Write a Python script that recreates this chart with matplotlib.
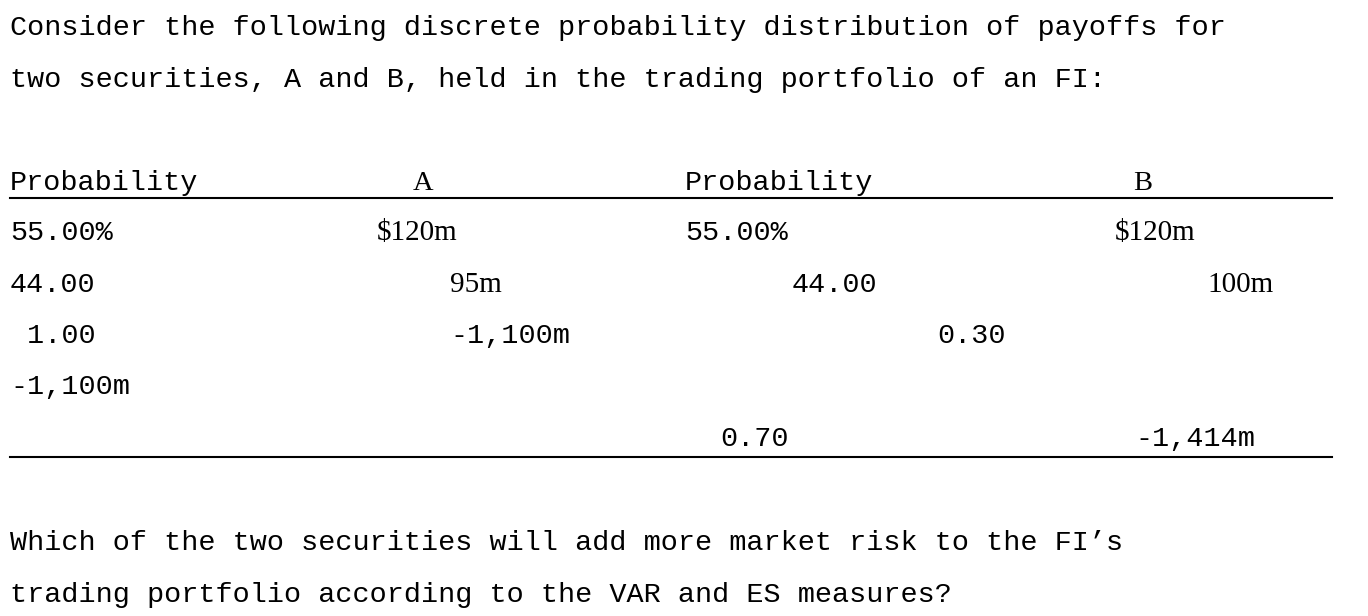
import matplotlib
matplotlib.use("Agg")
import matplotlib.pyplot as plt

intro = ["Consider the following discrete probability distribution of payoffs for",
         "two securities, A and B, held in the trading portfolio of an FI:"]
question = ["Which of the two securities will add more market risk to the FI\u2019s",
            "trading portfolio according to the VAR and ES measures?"]
headers = ["Probability", "A", "Probability", "B"]
# (text, x_left_px, y_baseline_px, font)
cells = [
    ("55.00%", 10, 240, "mono"), ("$120m", 377, 240, "serif"), ("55.00%", 685, 240, "mono"), ("$120m", 1115, 240, "serif"),
    ("44.00", 10, 292, "mono"), ("95m", 450, 292, "serif"), ("44.00", 792, 292, "mono"), ("100m", 1207, 292, "serif"),
    (" 1.00", 10, 343, "mono"), ("-1,100m", 450, 343, "mono"), ("0.30", 937, 343, "mono"),
    ("-1,100m", 10, 394, "mono"),
    ("0.70", 720, 446, "mono"), ("-1,414m", 1135, 446, "mono"),
]
header_x = [10, 413, 685, 1133]

W, H = 1368, 616
fig = plt.figure(figsize=(W/100, H/100), dpi=100)
ax = fig.add_axes([0, 0, 1, 1])
ax.set_xlim(0, W); ax.set_ylim(H, 0); ax.axis("off")
fonts = {"mono": "Liberation Mono", "serif": "Liberation Serif"}
sizes = {"mono": 20.5, "serif": 21}

for i, t in enumerate(intro):
    ax.text(10, 35 + 52*i, t, family=fonts["mono"], fontsize=sizes["mono"], va="baseline")
for t, x in zip(headers, header_x):
    ax.text(x, 190, t, family=fonts["mono"] if len(t) > 1 else fonts["serif"], fontsize=sizes["mono"], va="baseline")
ax.plot([10, 1332], [198, 198], color="black", lw=1.5)
for t, x, y, f in cells:
    ax.text(x, y, t, family=fonts[f], fontsize=sizes[f], va="baseline")
ax.plot([10, 1332], [457, 457], color="black", lw=1.5)
for i, t in enumerate(question):
    ax.text(10, 550 + 52*i, t, family=fonts["mono"], fontsize=sizes["mono"], va="baseline")

fig.savefig("out.png", dpi=100, facecolor="white")
